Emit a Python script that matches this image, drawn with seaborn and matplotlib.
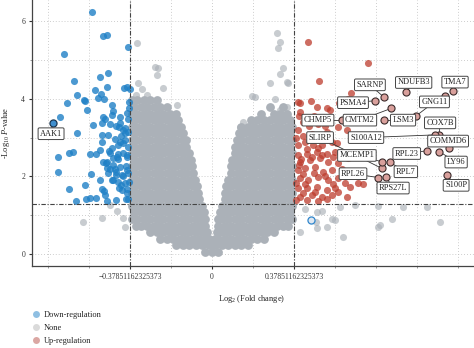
import matplotlib
matplotlib.use("Agg")
import matplotlib.pyplot as plt
import seaborn as sns
import pandas as pd
from matplotlib.lines import Line2D

# ---------------- data ----------------
THR_X = 0.37851162325373
THR_Y = 1.30103
x_tick_vals = [-0.37851162325373, 0.0, 0.37851162325373]
x_tick_labels = ["\u22120.37851162325373", "0", "0.37851162325373"]
y_tick_vals = [0, 2, 4, 6]
y_tick_labels = ["0", "2", "4", "6"]
legend_labels = ["Down-regulation", "None", "Up-regulation"]

down_pts = [
    (-0.552, 6.23), (-0.505, 5.62), (-0.486, 5.64), (-0.386, 5.33), (-0.682, 5.15),
    (-0.482, 4.67), (-0.517, 4.55), (-0.637, 4.46), (-0.483, 4.30), (-0.540, 4.23),
    (-0.406, 4.27), (-0.394, 4.30), (-0.379, 4.24), (-0.622, 4.09), (-0.514, 4.12),
    (-0.525, 4.03), (-0.499, 4.00), (-0.590, 3.98), (-0.585, 3.94), (-0.671, 3.89),
    (-0.463, 3.84), (-0.576, 3.72), (-0.458, 3.69), (-0.463, 3.58), (-0.382, 3.93),
    (-0.382, 3.76), (-0.425, 3.52), (-0.386, 3.47), (-0.700, 3.52), (-0.502, 3.52),
    (-0.494, 3.47), (-0.548, 3.32), (-0.509, 3.38), (-0.471, 3.35), (-0.443, 3.30),
    (-0.428, 3.28), (-0.402, 3.24), (-0.625, 3.11), (-0.402, 3.13), (-0.386, 3.15),
    (-0.509, 3.07), (-0.482, 3.07), (-0.448, 2.96), (-0.425, 2.89), (-0.506, 2.89),
    (-0.433, 2.81), (-0.410, 2.85), (-0.386, 2.77), (-0.463, 2.72), (-0.517, 2.68),
    (-0.475, 2.66), (-0.471, 2.61), (-0.563, 2.59), (-0.537, 2.59), (-0.660, 2.61),
    (-0.643, 2.63), (-0.433, 2.58), (-0.412, 2.61), (-0.391, 2.55), (-0.710, 2.51),
    (-0.456, 2.47), (-0.433, 2.44), (-0.502, 2.36), (-0.489, 2.34), (-0.456, 2.29),
    (-0.425, 2.25), (-0.397, 2.28), (-0.483, 2.21), (-0.471, 2.18), (-0.710, 2.12),
    (-0.560, 2.06), (-0.479, 2.08), (-0.443, 2.04), (-0.417, 2.04), (-0.389, 2.08),
    (-0.456, 1.91), (-0.433, 1.86), (-0.402, 1.84), (-0.382, 1.86), (-0.586, 1.78),
    (-0.658, 1.68), (-0.508, 1.68), (-0.499, 1.63), (-0.428, 1.69), (-0.417, 1.65),
    (-0.394, 1.68), (-0.629, 1.37), (-0.582, 1.41), (-0.563, 1.44), (-0.537, 1.44),
    (-0.487, 1.37), (-0.443, 1.38), (-0.398, 1.41), (-0.392, 3.63), (-0.392, 2.51),
    (-0.392, 2.16), (-0.392, 1.56), (-0.425, 3.37), (-0.410, 3.20), (-0.487, 2.38),
    (-0.441, 2.12), (-0.517, 1.91), (-0.463, 1.91), (-0.418, 1.78), (-0.494, 1.52),
    (-0.386, 1.43), (-0.410, 2.00), (-0.400, 2.95), (-0.440, 2.50), (-0.450, 2.20),
    (-0.420, 3.05),
]

up_pts = [
    (0.445, 5.46), (0.722, 4.91), (0.496, 4.47), (0.640, 4.14), (0.629, 3.99),
    (0.588, 3.88), (0.406, 3.90), (0.456, 3.95), (0.398, 3.93), (0.483, 3.80),
    (0.529, 3.76), (0.406, 3.67), (0.545, 3.71), (0.537, 3.50), (0.583, 3.28),
    (0.622, 3.20), (0.529, 3.15), (0.398, 3.20), (0.575, 2.85), (0.398, 2.81),
    (0.429, 2.89), (0.468, 2.81), (0.506, 2.81), (0.552, 2.89), (0.398, 2.55),
    (0.437, 2.59), (0.483, 2.64), (0.529, 2.59), (0.568, 2.64), (0.406, 2.38),
    (0.452, 2.42), (0.499, 2.47), (0.537, 2.38), (0.583, 2.34), (0.629, 2.47),
    (0.398, 2.16), (0.429, 2.21), (0.476, 2.25), (0.514, 2.12), (0.552, 2.16),
    (0.637, 2.08), (0.683, 2.12), (0.406, 1.95), (0.445, 1.91), (0.491, 1.99),
    (0.537, 1.91), (0.583, 1.95), (0.614, 1.82), (0.698, 1.80), (0.672, 1.82),
    (0.398, 1.69), (0.437, 1.69), (0.483, 1.73), (0.529, 1.65), (0.568, 1.69),
    (0.637, 1.73), (0.406, 1.48), (0.460, 1.52), (0.506, 1.48), (0.552, 1.52),
    (0.622, 1.48), (0.420, 3.05), (0.460, 3.10), (0.500, 3.00), (0.390, 2.98),
    (0.440, 2.70), (0.490, 2.72), (0.410, 2.45), (0.460, 2.50), (0.510, 2.55),
    (0.420, 2.05), (0.470, 2.08), (0.520, 2.02), (0.390, 1.82), (0.430, 1.80),
    (0.475, 1.60), (0.420, 1.58), (0.390, 1.38), (0.440, 1.40), (0.490, 1.37),
    (0.530, 1.42), (0.580, 1.60), (0.560, 2.50), (0.600, 2.20), (0.560, 1.80),
    (0.400, 2.30), (0.420, 3.40), (0.450, 3.30), (0.490, 3.35), (0.400, 3.55),
    (0.470, 3.55), (0.520, 3.30),
]

# dense non-significant mass, read row by row (y level, x positions)
none_rows = [
    (0.05, [-0.03, 0.0, 0.03]),
    (0.22, [-0.165, -0.135, -0.105, -0.075, -0.045, -0.015, 0.015, 0.045, 0.075, 0.105, 0.135, 0.165]),
    (0.39, [-0.24, -0.21, -0.18, -0.15, -0.12, -0.09, -0.06, -0.03, -0.012, 0.012, 0.03, 0.06, 0.09,
            0.12, 0.15, 0.18, 0.21, 0.24]),
    (0.56, [-0.285, -0.255, -0.225, -0.195, -0.165, -0.135, -0.105, -0.075, -0.045, -0.022, 0.022,
            0.045, 0.075, 0.105, 0.135, 0.165, 0.195, 0.225, 0.255, 0.285]),
    (0.73, [-0.35, -0.33, -0.30, -0.27, -0.24, -0.21, -0.18, -0.15, -0.12, -0.09, -0.06, -0.03, 0.03,
            0.06, 0.09, 0.12, 0.15, 0.18, 0.21, 0.24, 0.27, 0.30, 0.33, 0.35]),
    (0.90, [-0.37, -0.345, -0.315, -0.285, -0.255, -0.225, -0.195, -0.165, -0.135, -0.105, -0.075,
            -0.045, -0.032, 0.030, 0.045, 0.075, 0.105, 0.135, 0.165, 0.195, 0.225, 0.255, 0.285,
            0.315, 0.345, 0.37]),
    (1.07, [-0.36, -0.33, -0.30, -0.27, -0.24, -0.21, -0.18, -0.15, -0.12, -0.09, -0.06, -0.037, 0.036,
            0.06, 0.09, 0.12, 0.15, 0.18, 0.21, 0.24, 0.27, 0.30, 0.33, 0.36]),
    (1.24, [-0.37, -0.345, -0.315, -0.285, -0.255, -0.225, -0.195, -0.165, -0.135, -0.105, -0.075,
            -0.045, 0.046, 0.075, 0.105, 0.135, 0.165, 0.195, 0.225, 0.255, 0.285, 0.315, 0.345, 0.37]),
    (1.41, [-0.36, -0.33, -0.30, -0.27, -0.24, -0.21, -0.18, -0.15, -0.12, -0.09, -0.06, 0.06, 0.09,
            0.12, 0.15, 0.18, 0.21, 0.24, 0.27, 0.30, 0.33, 0.36]),
    (1.58, [-0.37, -0.345, -0.315, -0.285, -0.255, -0.225, -0.195, -0.165, -0.135, -0.105, -0.075,
            -0.063, 0.059, 0.075, 0.105, 0.135, 0.165, 0.195, 0.225, 0.255, 0.285, 0.315, 0.345, 0.37]),
    (1.75, [-0.36, -0.33, -0.30, -0.27, -0.24, -0.21, -0.18, -0.15, -0.12, -0.09, -0.07, 0.066, 0.09,
            0.12, 0.15, 0.18, 0.21, 0.24, 0.27, 0.30, 0.33, 0.36]),
    (1.92, [-0.37, -0.345, -0.315, -0.285, -0.255, -0.225, -0.195, -0.165, -0.135, -0.105, -0.078,
            0.075, 0.105, 0.135, 0.165, 0.195, 0.225, 0.255, 0.285, 0.315, 0.345, 0.37]),
    (2.09, [-0.36, -0.33, -0.30, -0.27, -0.24, -0.21, -0.18, -0.15, -0.12, -0.09, 0.09, 0.12, 0.15,
            0.18, 0.21, 0.24, 0.27, 0.30, 0.33, 0.36]),
    (2.26, [-0.37, -0.345, -0.315, -0.285, -0.255, -0.225, -0.195, -0.165, -0.135, -0.105, -0.091,
            0.086, 0.105, 0.135, 0.165, 0.195, 0.225, 0.255, 0.285, 0.315, 0.345, 0.37]),
    (2.43, [-0.36, -0.33, -0.30, -0.27, -0.24, -0.21, -0.18, -0.15, -0.12, -0.098, 0.092, 0.12, 0.15,
            0.18, 0.21, 0.24, 0.27, 0.30, 0.33, 0.36]),
    (2.60, [-0.37, -0.345, -0.315, -0.285, -0.255, -0.225, -0.195, -0.165, -0.135, -0.105, 0.105,
            0.135, 0.165, 0.195, 0.225, 0.255, 0.285, 0.315, 0.345, 0.37]),
    (2.77, [-0.36, -0.33, -0.30, -0.27, -0.24, -0.21, -0.18, -0.15, -0.12, 0.106, 0.12, 0.15, 0.18,
            0.21, 0.24, 0.27, 0.30, 0.33, 0.36]),
    (2.94, [-0.37, -0.345, -0.315, -0.285, -0.255, -0.225, -0.195, -0.165, -0.135, -0.122, 0.114,
            0.135, 0.165, 0.195, 0.225, 0.255, 0.285, 0.315, 0.345, 0.37]),
    (3.11, [-0.36, -0.33, -0.30, -0.27, -0.24, -0.21, -0.18, -0.15, -0.132, 0.125, 0.15, 0.18, 0.21,
            0.24, 0.27, 0.30, 0.33, 0.36]),
    (3.28, [-0.37, -0.345, -0.315, -0.285, -0.255, -0.225, -0.195, -0.165, -0.142, 0.135, 0.165,
            0.195, 0.225, 0.255, 0.285, 0.315, 0.345, 0.37]),
    (3.45, [-0.36, -0.33, -0.30, -0.27, -0.24, -0.21, -0.18, -0.155, 0.18, 0.21, 0.24, 0.27, 0.30,
            0.33, 0.36]),
    (3.62, [-0.37, -0.345, -0.315, -0.285, -0.255, -0.225, -0.195, -0.165, 0.225, 0.285, 0.315, 0.345]),
    (3.79, [-0.36, -0.33, -0.30, -0.27, -0.24, -0.21, 0.27, 0.33]),
    (3.96, [-0.37, -0.345, -0.315, -0.285, -0.255]),
]

none_sparse = [
    (-0.348, 5.45), (-0.263, 4.82), (-0.249, 4.79), (-0.255, 4.61), (-0.226, 4.28),
    (-0.340, 4.40), (-0.325, 4.24), (-0.350, 4.10), (-0.300, 4.10), (-0.163, 3.84),
    (0.299, 5.69), (0.314, 5.47), (0.306, 5.30), (0.329, 4.79), (0.314, 4.64),
    (0.345, 4.44), (0.268, 4.40), (0.183, 4.07), (0.199, 4.04), (0.291, 3.99),
    (0.345, 3.80), (0.314, 3.71), (0.129, 3.28), (0.144, 3.41), (0.350, 4.40),
    (-0.594, 0.83), (-0.509, 0.92), (-0.410, 0.92), (-0.471, 1.26), (-0.440, 1.10),
    (-0.400, 0.70), (0.429, 1.15), (0.483, 1.09), (0.506, 1.12), (0.591, 1.22),
    (0.660, 1.26), (0.768, 1.24), (0.883, 1.22), (0.991, 1.20), (1.053, 0.83),
    (0.829, 0.89), (0.776, 0.75), (0.768, 0.70), (0.553, 0.89), (0.568, 0.88),
    (0.480, 0.83), (0.529, 0.70), (0.606, 0.45), (0.406, 0.57), (0.483, 0.66),
]

highlight_none = [(0.456, 0.88)]

label_names = ["AAK1", "SARNP", "NDUFB3", "TMA7", "PSMA4", "GNG11", "CHMP5", "CMTM2", "LSM3",
               "COX7B", "SLIRP", "S100A12", "COMMD6", "MCEMP1", "RPL23", "LY96", "RPL7",
               "RPL26", "RPS27L", "S100P"]
label_point_x = [-0.736, 0.794, 0.894, 1.114, 0.753, 0.940, 0.600, 0.826, 0.794,
                 1.049, 0.783, 1.030, 1.094, 0.783, 0.991, 1.049, 0.822,
                 0.768, 0.803, 1.083]
label_point_y = [3.37, 4.04, 4.17, 4.21, 3.95, 3.55, 3.45, 3.75, 3.45,
                 3.07, 2.21, 3.07, 2.74, 2.38, 2.66, 2.64, 2.36,
                 1.97, 1.99, 2.04]
label_box_x = [-0.743, 0.729, 0.931, 1.122, 0.651, 1.027, 0.489, 0.683, 0.882,
               1.053, 0.499, 0.711, 1.090, 0.669, 0.899, 1.127, 0.895,
               0.651, 0.836, 1.127]
label_box_y = [3.10, 4.36, 4.42, 4.43, 3.90, 3.92, 3.45, 3.45, 3.45,
               3.38, 3.00, 3.00, 2.91, 2.54, 2.59, 2.37, 2.12,
               2.07, 1.70, 1.77]
extra_marked_up = [(1.076, 4.07)]

# ---------------- build table ----------------
rows = []
for x, y in down_pts:
    rows.append(("Down-regulation", x, y, "sig"))
for yv, xs in none_rows:
    for x in xs:
        rows.append(("None", x, yv, "dense"))
for x, y in none_sparse:
    rows.append(("None", x, y, "sparse"))
for x, y in up_pts:
    rows.append(("Up-regulation", x, y, "sig"))
df = pd.DataFrame(rows, columns=["group", "log2fc", "nlog10p", "kind"])

# ---------------- style ----------------
sns.set_style("white")
plt.rcParams["font.family"] = ["Liberation Serif", "DejaVu Serif"]
plt.rcParams["mathtext.fontset"] = "custom"
plt.rcParams["mathtext.rm"] = "Liberation Serif"
plt.rcParams["mathtext.it"] = "Liberation Serif:italic"

fig = plt.figure(figsize=(4.74, 3.48), dpi=100)
ax = fig.add_axes([32 / 474, 1 - 266 / 348, 1 - 32 / 474, 266 / 348])

col_none = "#abb1b8"
col_down = "#1f80c6"
col_up = "#bd3c2d"
S = 26

sns.scatterplot(data=df[(df.group == "None") & (df.kind == "dense")], x="log2fc", y="nlog10p",
                color=col_none, s=40, alpha=1.0, linewidth=0, ax=ax, legend=False, zorder=2)
sns.scatterplot(data=df[(df.group == "None") & (df.kind == "sparse")], x="log2fc", y="nlog10p",
                color=col_none, s=S, alpha=0.65, linewidth=0, ax=ax, legend=False, zorder=2)
sns.scatterplot(data=df[df.group == "Down-regulation"], x="log2fc", y="nlog10p", color=col_down,
                s=S, alpha=0.8, linewidth=0, ax=ax, legend=False, zorder=3)
sns.scatterplot(data=df[df.group == "Up-regulation"], x="log2fc", y="nlog10p", color=col_up,
                s=S, alpha=0.75, linewidth=0, ax=ax, legend=False, zorder=3)

# highlighted point (blue outline) among non-significant
hdf = pd.DataFrame(highlight_none, columns=["log2fc", "nlog10p"])
sns.scatterplot(data=hdf, x="log2fc", y="nlog10p", color="#dfe8f2", edgecolor="#2f86cc",
                s=S, linewidth=0.9, ax=ax, legend=False, zorder=4)

# labelled genes
ldf = pd.DataFrame({"name": label_names, "px": label_point_x, "py": label_point_y,
                    "bx": label_box_x, "by": label_box_y})
for _, r in ldf.iterrows():
    ax.plot([r.bx, r.px], [r.by, r.py], color="#333333", lw=0.6, zorder=5)
up_lab = ldf[ldf.name != "AAK1"]
sns.scatterplot(data=up_lab, x="px", y="py", color="#d9a09c", edgecolor="#3b2b2b",
                s=S, linewidth=0.8, ax=ax, legend=False, zorder=6)
edf = pd.DataFrame(extra_marked_up, columns=["px", "py"])
sns.scatterplot(data=edf, x="px", y="py", color="#d9a09c", edgecolor="#3b2b2b",
                s=S, linewidth=0.8, ax=ax, legend=False, zorder=6)
sns.scatterplot(data=ldf[ldf.name == "AAK1"], x="px", y="py", color="#3f8fcf", edgecolor="#1b3550",
                s=S, linewidth=0.9, ax=ax, legend=False, zorder=6)
for _, r in ldf.iterrows():
    ax.text(r.bx, r.by, r["name"], fontsize=6, ha="center", va="center", color="#222222", zorder=7,
            bbox=dict(boxstyle="round,pad=0.22,rounding_size=0.15", fc="white", ec="#444444", lw=0.7))

# thresholds
for xv in (-THR_X, THR_X):
    ax.axvline(xv, color="#444444", lw=0.8, ls=(0, (4, 1.5, 1, 1.5)), zorder=4)
ax.axhline(THR_Y, color="#444444", lw=0.8, ls=(0, (4, 1.5, 1, 1.5)), zorder=4)

# axes
ax.set_xlim(-0.831, 1.2096)
ax.set_ylim(-0.309, 6.546)
ax.set_xticks(x_tick_vals)
ax.set_xticklabels(x_tick_labels)
ax.set_xticks([-0.75702, -0.56777, -0.18926, 0.18926, 0.56777, 0.75702, 0.94628, 1.13553], minor=True)
ax.set_yticks(y_tick_vals)
ax.set_yticklabels(y_tick_labels)
ax.set_yticks([1, 3, 5], minor=True)
ax.grid(True, which="both", color="#bdbdbd", lw=0.6, ls=(0, (1, 2.5)), zorder=0)
ax.set_axisbelow(True)
for s in ("top", "right"):
    ax.spines[s].set_visible(False)
for s in ("left", "bottom"):
    ax.spines[s].set_color("#444444")
    ax.spines[s].set_linewidth(0.9)
ax.tick_params(axis="both", which="major", labelsize=5.5, colors="#333333", length=2.5, width=0.8, pad=2.5,
               left=True, bottom=True)
ax.tick_params(axis="both", which="minor", length=1.5, width=0.6, color="#888888", left=True, bottom=True)

ax.set_xlabel("Log$_2$ (Fold change)", fontsize=6, color="#222222")
ax.set_ylabel("-Log$_{10}$ $P$-value", fontsize=6, color="#222222")
ax.xaxis.set_label_coords(0.497, -0.10)
ax.yaxis.set_label_coords(-0.045, 0.5)

handles = [
    Line2D([], [], marker="o", ls="", markersize=5, markerfacecolor="#8fbfe2", markeredgewidth=0),
    Line2D([], [], marker="o", ls="", markersize=5, markerfacecolor="#dadada", markeredgewidth=0),
    Line2D([], [], marker="o", ls="", markersize=5, markerfacecolor="#dba7a3", markeredgewidth=0),
]
fig.legend(handles, legend_labels, loc="upper left", bbox_to_anchor=(32 / 474, 1 - 311 / 348),
           frameon=False, fontsize=6, handletextpad=0.4, labelspacing=0.6, borderaxespad=0,
           borderpad=0, handlelength=1.0, labelcolor="#222222")

fig.savefig("out.png", dpi=100)
